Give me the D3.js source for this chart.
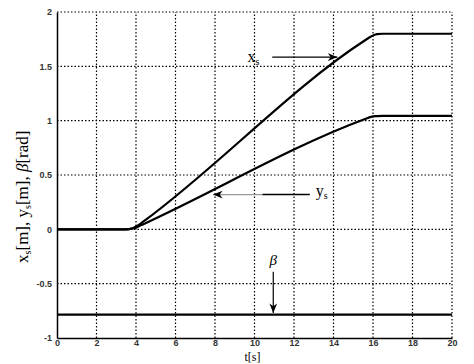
<!DOCTYPE html>
<html><head><meta charset="utf-8">
<script src="https://cdn.jsdelivr.net/npm/d3@7"></script>
<style>body{margin:0;background:#fff}svg{display:block}</style>
</head><body>
<svg id="c" width="474" height="364"></svg>
<script>
const xTicks = [0,2,4,6,8,10,12,14,16,18,20];
const yTicks = [-1,-0.5,0,0.5,1,1.5,2];
const yTickLabels = ["-1","-0.5","0","0.5","1","1.5","2"];
const tXs = [0,3.5,3.8,4.1,4.4,15.6,15.9,16.2,16.5,20];
const vXs = [0,0,0.008,0.035,0.075,1.74,1.775,1.797,1.8,1.8];
const tYs = [0,3.5,3.8,4.1,4.4,15.6,15.9,16.2,16.5,20];
const vYs = [0,0,0.007,0.025,0.05,1.015,1.035,1.042,1.045,1.045];
const tBeta = [0,20];
const vBeta = [-0.785,-0.785];

const svg = d3.select("#c");
const x = d3.scaleLinear().domain([0,20]).range([57,452]);
const y = d3.scaleLinear().domain([-1,2]).range([338,12]);

// grid
const g = svg.append("g");
g.selectAll(".vg").data(xTicks.slice(1)).join("line")
 .attr("x1",d=>x(d)).attr("x2",d=>x(d)).attr("y1",y(-1)).attr("y2",y(2))
 .attr("stroke","#000").attr("stroke-width",1.2).attr("stroke-dasharray","1.5,2");
g.selectAll(".hg").data(yTicks.slice(1)).join("line")
 .attr("x1",x(0)).attr("x2",x(20)).attr("y1",d=>y(d)).attr("y2",d=>y(d))
 .attr("stroke","#000").attr("stroke-width",1.2).attr("stroke-dasharray","1.5,2");

// axes
const xa = svg.append("g").attr("transform",`translate(0,${y(-1)})`)
 .call(d3.axisBottom(x).tickValues(xTicks).tickSize(0).tickPadding(2).tickFormat(d3.format("d")));
const ya = svg.append("g").attr("transform",`translate(${x(0)},0)`)
 .call(d3.axisLeft(y).tickValues(yTicks).tickSize(0).tickPadding(5).tickFormat((d,i)=>yTickLabels[i]));
[xa,ya].forEach(a=>{
  a.select(".domain").attr("stroke","#000").attr("stroke-width",1.5);
  a.selectAll("text").attr("font-family","Arial, Liberation Sans, sans-serif").attr("font-size",9).attr("font-weight","bold").attr("fill","#333");
});

// lines
const line = d3.line().x(d=>x(d[0])).y(d=>y(d[1])).curve(d3.curveMonotoneX);
function draw(ts,vs){
  svg.append("path").datum(ts.map((t,i)=>[t,vs[i]])).attr("d",line)
   .attr("fill","none").attr("stroke","#000").attr("stroke-width",2.2);
}
draw(tXs,vXs); draw(tYs,vYs); draw(tBeta,vBeta);

// arrow marker
svg.append("defs").append("marker").attr("id","ah").attr("viewBox","0 0 10 10")
 .attr("refX",10).attr("refY",5).attr("markerWidth",8).attr("markerHeight",8)
 .attr("orient","auto-start-reverse").append("path").attr("d","M0,1 L10,5 L0,9 L3,5 Z").attr("fill","#000");

const serif = "Liberation Serif, Times New Roman, serif";
// x_s annotation
svg.append("line").attr("x1",x(10.9)).attr("x2",x(14.2)).attr("y1",y(1.585)).attr("y2",y(1.585))
 .attr("stroke","#000").attr("stroke-width",1.2).attr("marker-end","url(#ah)");
const lx = svg.append("text").attr("x",x(9.65)).attr("y",y(1.54)).attr("font-family",serif).attr("font-size",16);
lx.append("tspan").text("x");
lx.append("tspan").attr("font-size",10).attr("dy",3).text("s");

// y_s annotation
svg.append("line").attr("x1",x(10.4)).attr("x2",x(7.9)).attr("y1",y(0.32)).attr("y2",y(0.32))
 .attr("stroke","#999").attr("stroke-width",1.2).attr("marker-end","url(#ah)");
svg.append("line").attr("x1",x(12.8)).attr("x2",x(10.4)).attr("y1",y(0.32)).attr("y2",y(0.32))
 .attr("stroke","#000").attr("stroke-width",1.5);
const ly = svg.append("text").attr("x",x(13.1)).attr("y",y(0.31)).attr("font-family",serif).attr("font-size",16);
ly.append("tspan").text("y");
ly.append("tspan").attr("font-size",10).attr("dy",3).text("s");

// beta annotation
svg.append("line").attr("x1",x(10.95)).attr("x2",x(10.95)).attr("y1",y(-0.39)).attr("y2",y(-0.77))
 .attr("stroke","#000").attr("stroke-width",1.2).attr("marker-end","url(#ah)");
svg.append("text").attr("x",x(10.95)).attr("y",y(-0.33)).attr("text-anchor","middle")
 .attr("font-family",serif).attr("font-style","italic").attr("font-size",15).text("β");

// axis titles
const xt = svg.append("text").attr("x",x(9.9)).attr("y",361).attr("text-anchor","middle")
 .attr("font-family",serif).attr("font-size",12);
xt.append("tspan").text("t[s]");

const yt = svg.append("text").attr("transform",`translate(28,${y(0.3)}) rotate(-90)`).attr("text-anchor","middle")
 .attr("font-family",serif).attr("font-size",17);
yt.append("tspan").text("x");
yt.append("tspan").attr("font-size",10).attr("dy",3).text("s");
yt.append("tspan").attr("dy",-3).text("[m], y");
yt.append("tspan").attr("font-size",10).attr("dy",3).text("s");
yt.append("tspan").attr("dy",-3).text("[m], ");
yt.append("tspan").attr("font-style","italic").text("β");
yt.append("tspan").text("[rad]");
</script>
</body></html>
